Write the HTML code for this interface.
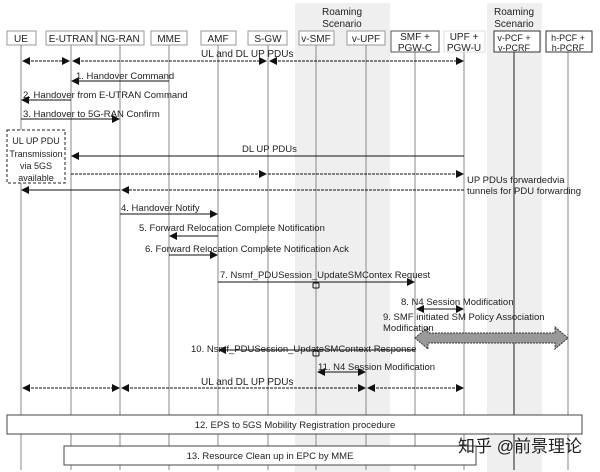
<!DOCTYPE html>
<html><head><meta charset="utf-8"><style>
html,body{margin:0;padding:0;background:#fff}
svg{display:block;font-size:9.5px;font-family:"Liberation Sans",sans-serif}
text{fill:#222}
</style></head><body>
<svg width="600" height="472" viewBox="0 0 600 472" xmlns="http://www.w3.org/2000/svg">
<defs>
<marker id="a" markerWidth="8" markerHeight="8" refX="7" refY="4" orient="auto" markerUnits="userSpaceOnUse"><path d="M0,0 L8,4 L0,8 z" fill="#111"/></marker>
<marker id="s" markerWidth="8" markerHeight="8" refX="1" refY="4" orient="auto" markerUnits="userSpaceOnUse"><path d="M8,0 L0,4 L8,8 z" fill="#111"/></marker>
</defs>
<rect x="295" y="3" width="95" height="469" fill="#efefef"/>
<rect x="487" y="3" width="55" height="469" fill="#efefef"/>
<text x="342" y="15" text-anchor="middle" font-size="10">Roaming</text>
<text x="342" y="27" text-anchor="middle" font-size="10">Scenario</text>
<text x="514" y="15" text-anchor="middle" font-size="10">Roaming</text>
<text x="514" y="27" text-anchor="middle" font-size="10">Scenario</text>
<g stroke="#888" stroke-width="1">
<line x1="21" y1="45" x2="21" y2="470"/><line x1="71" y1="45" x2="71" y2="470"/>
<line x1="120" y1="45" x2="120" y2="470"/><line x1="169" y1="45" x2="169" y2="470"/>
<line x1="218" y1="45" x2="218" y2="470"/><line x1="268" y1="45" x2="268" y2="470"/>
<line x1="316" y1="45" x2="316" y2="470"/><line x1="366" y1="45" x2="366" y2="470"/>
<line x1="415" y1="52" x2="415" y2="470"/><line x1="464" y1="52" x2="464" y2="470"/>
<line x1="568" y1="52" x2="568" y2="470"/>
</g>
<line x1="514" y1="52" x2="514" y2="470" stroke="#222"/>
<g fill="#fff" stroke="#999">
<rect x="7" y="31" width="29" height="14"/><rect x="46" y="31" width="50" height="14"/>
<rect x="97" y="31" width="47" height="14"/><rect x="151" y="31" width="36" height="14"/>
<rect x="201" y="31" width="35" height="14"/><rect x="248" y="31" width="39" height="14"/>
<rect x="299" y="31" width="35" height="14"/><rect x="347" y="31" width="38" height="14"/>
<rect x="391" y="31" width="48" height="21" stroke="#555"/><rect x="444" y="31" width="41" height="21" stroke="#ddd"/>
<rect x="494" y="31" width="46" height="21" stroke="#333"/><rect x="546" y="31" width="46" height="21" stroke="#333"/>
</g>
<g font-size="10" text-anchor="middle">
<text x="21" y="42">UE</text><text x="71" y="42">E-UTRAN</text><text x="120" y="42">NG-RAN</text>
<text x="169" y="42">MME</text><text x="218" y="42">AMF</text><text x="268" y="42">S-GW</text>
<text x="316" y="42">v-SMF</text><text x="366" y="42">v-UPF</text>
<text x="415" y="40">SMF +</text><text x="415" y="51">PGW-C</text>
<text x="464" y="40">UPF +</text><text x="464" y="51">PGW-U</text>
<text x="514" y="41" font-size="9">v-PCF +</text><text x="514" y="51" font-size="9">v-PCRF</text>
<text x="568" y="41" font-size="9">h-PCF +</text><text x="568" y="51" font-size="9">h-PCRF</text>
</g>
<g stroke="#111" stroke-width="1" fill="none">
<line x1="23" y1="61" x2="69" y2="61" stroke-dasharray="3,1" marker-start="url(#s)" marker-end="url(#a)"/>
<line x1="73" y1="61" x2="266" y2="61" stroke-dasharray="3,1" marker-start="url(#s)" marker-end="url(#a)"/>
<line x1="270" y1="61" x2="463" y2="61" stroke-dasharray="3,1" marker-start="url(#s)" marker-end="url(#a)"/>
<line x1="169" y1="81" x2="72" y2="81" marker-end="url(#a)"/>
<line x1="71" y1="100" x2="22" y2="100" marker-end="url(#a)"/>
<line x1="21" y1="119" x2="119" y2="119" marker-end="url(#a)"/>
<line x1="464" y1="156" x2="72" y2="156" marker-end="url(#a)"/>
<line x1="71" y1="174" x2="266" y2="174" stroke-dasharray="3,1" marker-end="url(#a)"/>
<line x1="268" y1="174" x2="463" y2="174" stroke-dasharray="3,1" marker-end="url(#a)"/>
<line x1="464" y1="190" x2="122" y2="190" stroke-dasharray="3,1" marker-end="url(#a)"/>
<line x1="120" y1="190" x2="22" y2="190" marker-end="url(#a)"/>
<line x1="120" y1="214" x2="217" y2="214" marker-end="url(#a)"/>
<line x1="218" y1="236" x2="170" y2="236" marker-end="url(#a)"/>
<line x1="169" y1="255" x2="217" y2="255" marker-end="url(#a)"/>
<line x1="218" y1="282" x2="414" y2="282" marker-end="url(#a)"/>
<line x1="417" y1="309" x2="463" y2="309" marker-start="url(#s)" marker-end="url(#a)"/>
<line x1="415" y1="350" x2="219" y2="350" marker-end="url(#a)"/>
<line x1="318" y1="372" x2="365" y2="372" marker-start="url(#s)" marker-end="url(#a)"/>
<line x1="23" y1="388" x2="119" y2="388" stroke-dasharray="3,1" marker-start="url(#s)" marker-end="url(#a)"/>
<line x1="122" y1="388" x2="365" y2="388" stroke-dasharray="3,1" marker-start="url(#s)" marker-end="url(#a)"/>
<line x1="368" y1="388" x2="463" y2="388" stroke-dasharray="3,1" marker-start="url(#s)" marker-end="url(#a)"/>
<rect x="313" y="283" width="6" height="5" rx="1"/><rect x="313" y="351" width="6" height="5" rx="1"/>
</g>
<rect x="7" y="130" width="58" height="53" fill="#fff" stroke="#222" stroke-dasharray="3,2"/>
<g font-size="9" text-anchor="middle"><text x="36" y="144">UL UP PDU</text><text x="36" y="157">Transmission</text><text x="36" y="169">via 5GS</text><text x="36" y="181">available</text></g>
<path d="M415,338 L428,327 L428,333 L555,333 L555,327 L568,338 L555,349 L555,343 L428,343 L428,349 Z" fill="#999" stroke="#333" stroke-dasharray="2,1"/>
<text x="201" y="57" font-size="10">UL and DL UP PDUs</text>
<text x="76" y="79">1. Handover Command</text>
<text x="23" y="98">2. Handover from E-UTRAN Command</text>
<text x="23" y="117">3. Handover to 5G-RAN Confirm</text>
<text x="242" y="152">DL UP PDUs</text>
<text x="467" y="183">UP PDUs forwardedvia</text>
<text x="467" y="194">tunnels for PDU forwarding</text>
<text x="121" y="211">4. Handover Notify</text>
<text x="139" y="231">5. Forward Relocation Complete Notification</text>
<text x="145" y="252">6. Forward Relocation Complete Notification Ack</text>
<text x="220" y="278">7. Nsmf_PDUSession_UpdateSMContex Request</text>
<text x="401" y="305">8. N4 Session Modification</text>
<text x="383" y="320">9. SMF initiated SM Policy Association</text>
<text x="383" y="331">Modification</text>
<text x="191" y="352">10. Nsmf_PDUSession_UpdateSMContext Response</text>
<text x="318" y="370">11. N4 Session Modification</text>
<text x="201" y="385" font-size="10">UL and DL UP PDUs</text>
<rect x="7" y="415" width="575" height="19" fill="#fff" stroke="#444"/>
<text x="295" y="428" text-anchor="middle">12. EPS to 5GS Mobility Registration procedure</text>
<rect x="64" y="446" width="412" height="19" fill="#fff" stroke="#444"/>
<text x="270" y="459" text-anchor="middle">13. Resource Clean up in EPC by MME</text>
<text x="458" y="452" font-size="17" fill="#bbb" style="font-family:'Liberation Sans','Noto Sans CJK SC',sans-serif">知乎 @前景理论</text>
</svg>
</body></html>
